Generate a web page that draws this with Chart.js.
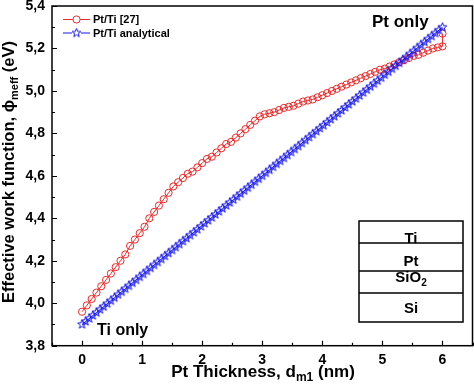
<!DOCTYPE html>
<html>
<head>
<meta charset="utf-8">
<script src="https://cdn.jsdelivr.net/npm/chart.js@4.4.1/dist/chart.umd.min.js"></script>
<style>
  html, body { margin: 0; padding: 0; background: #fff; }
  canvas { display: block; }
</style>
</head>
<body>
<canvas id="chart" width="474" height="391"></canvas>
<script>
// Pt/Ti [27] (red circles)
const redThickness = [
  0.00, 0.08, 0.16, 0.24, 0.32, 0.40, 0.48, 0.56, 0.64, 0.72,
  0.80, 0.88, 0.96, 1.04, 1.12, 1.20, 1.28, 1.36, 1.44, 1.52,
  1.60, 1.68, 1.76, 1.84, 1.92, 2.00, 2.08, 2.16, 2.24, 2.32,
  2.40, 2.48, 2.56, 2.64, 2.72, 2.80, 2.88, 2.96, 3.04, 3.12,
  3.20, 3.28, 3.36, 3.44, 3.52, 3.60, 3.68, 3.76, 3.84, 3.92,
  4.00, 4.08, 4.16, 4.24, 4.32, 4.40, 4.48, 4.56, 4.64, 4.72,
  4.80, 4.88, 4.96, 5.04, 5.12, 5.20, 5.28, 5.36, 5.44, 5.52,
  5.60, 5.68, 5.76, 5.84, 5.92, 6.00, 6.00
];
const redPhi = [
  3.96, 3.99, 4.02, 4.05, 4.08, 4.11, 4.14, 4.17, 4.20, 4.23,
  4.27, 4.30, 4.33, 4.36, 4.40, 4.43, 4.46, 4.49, 4.52, 4.55,
  4.57, 4.59, 4.61, 4.62, 4.64, 4.66, 4.68, 4.69, 4.71, 4.73,
  4.75, 4.76, 4.78, 4.80, 4.82, 4.84, 4.86, 4.88, 4.89, 4.895,
  4.90, 4.91, 4.92, 4.925, 4.93, 4.94, 4.95, 4.955, 4.96, 4.97,
  4.98, 4.99, 5.00, 5.01, 5.02, 5.03, 5.04, 5.05, 5.06, 5.07,
  5.08, 5.09, 5.10, 5.105, 5.115, 5.125, 5.135, 5.145, 5.155, 5.165,
  5.17, 5.18, 5.19, 5.20, 5.205, 5.21, 5.27
];

// Pt/Ti analytical (blue stars)
const blueThickness = [
  0.00, 0.06, 0.12, 0.18, 0.24, 0.30, 0.36, 0.42, 0.48, 0.54,
  0.60, 0.66, 0.72, 0.78, 0.84, 0.90, 0.96, 1.02, 1.08, 1.14,
  1.20, 1.26, 1.32, 1.38, 1.44, 1.50, 1.56, 1.62, 1.68, 1.74,
  1.80, 1.86, 1.92, 1.98, 2.04, 2.10, 2.16, 2.22, 2.28, 2.34,
  2.40, 2.46, 2.52, 2.58, 2.64, 2.70, 2.76, 2.82, 2.88, 2.94,
  3.00, 3.06, 3.12, 3.18, 3.24, 3.30, 3.36, 3.42, 3.48, 3.54,
  3.60, 3.66, 3.72, 3.78, 3.84, 3.90, 3.96, 4.02, 4.08, 4.14,
  4.20, 4.26, 4.32, 4.38, 4.44, 4.50, 4.56, 4.62, 4.68, 4.74,
  4.80, 4.86, 4.92, 4.98, 5.04, 5.10, 5.16, 5.22, 5.28, 5.34,
  5.40, 5.46, 5.52, 5.58, 5.64, 5.70, 5.76, 5.82, 5.88, 5.94,
  6.00
];
const bluePhi = [
  3.900, 3.914, 3.928, 3.942, 3.956, 3.970, 3.984, 3.998, 4.012, 4.026,
  4.040, 4.054, 4.068, 4.082, 4.096, 4.110, 4.124, 4.138, 4.152, 4.166,
  4.180, 4.194, 4.208, 4.222, 4.236, 4.250, 4.264, 4.278, 4.292, 4.306,
  4.320, 4.334, 4.348, 4.362, 4.376, 4.390, 4.404, 4.418, 4.432, 4.446,
  4.460, 4.474, 4.488, 4.502, 4.516, 4.530, 4.544, 4.558, 4.572, 4.586,
  4.600, 4.614, 4.628, 4.642, 4.656, 4.670, 4.684, 4.698, 4.712, 4.726,
  4.740, 4.754, 4.768, 4.782, 4.796, 4.810, 4.824, 4.838, 4.852, 4.866,
  4.880, 4.894, 4.908, 4.922, 4.936, 4.950, 4.964, 4.978, 4.992, 5.006,
  5.020, 5.034, 5.048, 5.062, 5.076, 5.090, 5.104, 5.118, 5.132, 5.146,
  5.160, 5.174, 5.188, 5.202, 5.216, 5.230, 5.244, 5.258, 5.272, 5.286,
  5.300
];

const xTicks = [0, 1, 2, 3, 4, 5, 6];
const yTicks = [3.8, 4.0, 4.2, 4.4, 4.6, 4.8, 5.0, 5.2, 5.4];
const legendLabels = ['Pt/Ti [27]', 'Pt/Ti analytical'];
const layers = ['Ti', 'Pt', 'SiO', 'Si'];

const RED = '#f02828';
const BLUE = '#1414f0';
const FONT = "'Liberation Sans', Arial, sans-serif";

const toPoints = (xs, ys) => xs.map((x, i) => ({ x: x, y: ys[i] }));

// 5-point open star marker
const makeStar = (r, color) => {
    const c = document.createElement('canvas');
    const s = Math.ceil(r * 2 + 3);
    c.width = s; c.height = s;
    const g = c.getContext('2d');
    g.strokeStyle = color;
    g.lineWidth = 1;
    g.beginPath();
    for (let k = 0; k < 10; k++) {
        const rad = k % 2 === 0 ? r : r * 0.42;
        const a = -Math.PI / 2 + k * Math.PI / 5;
        const px = s / 2 + rad * Math.cos(a);
        const py = s / 2 + rad * Math.sin(a);
        k === 0 ? g.moveTo(px, py) : g.lineTo(px, py);
    }
    g.closePath();
    g.stroke();
    return c;
};
const starImg = makeStar(4.6, BLUE);

// draw a run of text pieces (for subscripts)
const drawParts = (ctx, parts, x, y, align) => {
    let total = 0;
    parts.forEach(p => { ctx.font = p.font; total += ctx.measureText(p.t).width; });
    let cx = align === 'center' ? x - total / 2 : x;
    ctx.textAlign = 'left';
    ctx.textBaseline = 'alphabetic';
    parts.forEach(p => {
        ctx.font = p.font;
        ctx.fillText(p.t, cx, y + (p.dy || 0));
        cx += ctx.measureText(p.t).width;
    });
};

const decorations = {
    id: 'decorations',
    afterDraw(chart) {
        const ctx = chart.ctx;
        const a = chart.chartArea;
        const xs = chart.scales.x, ys = chart.scales.y;
        ctx.save();
        ctx.fillStyle = '#000';
        ctx.strokeStyle = '#000';

        // frame
        ctx.lineWidth = 1.5;
        ctx.strokeRect(a.left, a.top, a.right - a.left, a.bottom - a.top);

        // inward ticks
        ctx.lineWidth = 1.2;
        ctx.beginPath();
        for (let v = -0.5; v <= 6.5; v += 0.5) {
            const px = Math.round(xs.getPixelForValue(v)) + 0.5;
            const len = Number.isInteger(v) ? 5 : 3;
            ctx.moveTo(px, a.bottom); ctx.lineTo(px, a.bottom - len);
        }
        for (let i = 0; i <= 16; i++) {
            const v = 3.8 + i * 0.1;
            const py = Math.round(ys.getPixelForValue(v)) + 0.5;
            const len = i % 2 === 0 ? 5 : 3;
            ctx.moveTo(a.left, py); ctx.lineTo(a.left + len, py);
        }
        ctx.stroke();

        // x title
        drawParts(ctx, [
            { t: 'Pt Thickness, d', font: `bold 17px ${FONT}` },
            { t: 'm1', font: `bold 12px ${FONT}`, dy: 4 },
            { t: ' (nm)', font: `bold 17px ${FONT}` }
        ], 263, 377, 'center');

        // y title
        ctx.save();
        ctx.translate(14, 172);
        ctx.rotate(-Math.PI / 2);
        drawParts(ctx, [
            { t: 'Effective work function, \u03d5', font: `bold 16.5px ${FONT}` },
            { t: 'meff', font: `bold 11px ${FONT}`, dy: 4 },
            { t: ' (eV)', font: `bold 16.5px ${FONT}` }
        ], 0, 0, 'center');
        ctx.restore();

        // legend
        const legend = [
            { label: legendLabels[0], color: RED, y: 19.5, marker: 'circle' },
            { label: legendLabels[1], color: BLUE, y: 33, marker: 'star' }
        ];
        legend.forEach(l => {
            ctx.strokeStyle = l.color;
            ctx.lineWidth = 1;
            ctx.beginPath();
            ctx.moveTo(63, l.y); ctx.lineTo(90, l.y);
            ctx.stroke();
            if (l.marker === 'circle') {
                ctx.fillStyle = '#fff';
                ctx.beginPath();
                ctx.arc(76.5, l.y, 3.6, 0, Math.PI * 2);
                ctx.fill(); ctx.stroke();
            } else {
                ctx.fillStyle = '#fff';
                ctx.fillRect(72, l.y - 4, 9, 8);
                ctx.drawImage(starImg, 76.5 - starImg.width / 2, l.y - starImg.height / 2);
            }
            ctx.fillStyle = '#000';
            ctx.font = `bold 11px ${FONT}`;
            ctx.textAlign = 'left';
            ctx.textBaseline = 'middle';
            ctx.fillText(l.label, 93, l.y + 0.5);
        });

        // annotations
        ctx.fillStyle = '#000';
        ctx.textAlign = 'left';
        ctx.textBaseline = 'alphabetic';
        ctx.font = `bold 17px ${FONT}`;
        ctx.fillText('Pt only', 372, 27);
        ctx.font = `bold 16px ${FONT}`;
        ctx.fillText('Ti only', 97, 335);

        // layer stack inset
        ctx.strokeStyle = '#000';
        ctx.lineWidth = 1.5;
        ctx.fillStyle = '#fff';
        ctx.fillRect(359, 221, 104, 101);
        ctx.strokeRect(359, 221, 104, 101);
        ctx.beginPath();
        [243, 271, 293].forEach(yy => { ctx.moveTo(359, yy); ctx.lineTo(463, yy); });
        ctx.stroke();
        ctx.fillStyle = '#000';
        const cx = 411;
        ctx.font = `bold 15px ${FONT}`;
        ctx.textAlign = 'center';
        ctx.fillText(layers[0], cx, 243);
        ctx.fillText(layers[1], cx, 266);
        drawParts(ctx, [
            { t: layers[2], font: `bold 15px ${FONT}` },
            { t: '2', font: `bold 10px ${FONT}`, dy: 4 }
        ], cx, 282, 'center');
        ctx.font = `bold 15px ${FONT}`;
        ctx.textAlign = 'center';
        ctx.fillText(layers[3], cx, 313);

        ctx.restore();
    }
};

new Chart(document.getElementById('chart'), {
    type: 'scatter',
    data: {
        datasets: [
            {
                label: legendLabels[1],
                data: toPoints(blueThickness, bluePhi),
                showLine: true,
                borderColor: BLUE,
                borderWidth: 1,
                pointStyle: starImg,
                pointRadius: 4.6,
                order: 0
            },
            {
                label: legendLabels[0],
                data: toPoints(redThickness, redPhi),
                showLine: true,
                borderColor: RED,
                borderWidth: 1,
                pointStyle: 'circle',
                pointRadius: 3.6,
                pointBorderColor: RED,
                pointBorderWidth: 1,
                pointBackgroundColor: 'rgba(0,0,0,0)',
                order: 1
            }
        ]
    },
    options: {
        responsive: false,
        animation: false,
        events: [],
        layout: { autoPadding: false, padding: { top: 6, right: 1.5, left: 0, bottom: 0 } },
        plugins: { legend: { display: false }, tooltip: { enabled: false } },
        scales: {
            x: {
                type: 'linear',
                min: -0.5,
                max: 6.5,
                afterBuildTicks: s => { s.ticks = xTicks.map(v => ({ value: v })); },
                afterFit: s => { s.height = 45.3; s.paddingLeft = 0; s.paddingRight = 0; },
                grid: { display: false, drawTicks: false },
                border: { display: false },
                ticks: {
                    color: '#000',
                    padding: 6,
                    font: { family: FONT, size: 14, weight: 'bold' },
                    callback: v => String(v)
                }
            },
            y: {
                type: 'linear',
                min: 3.8,
                max: 5.4,
                afterBuildTicks: s => { s.ticks = yTicks.map(v => ({ value: v })); },
                afterFit: s => { s.width = 52; s.paddingTop = 0; s.paddingBottom = 0; },
                grid: { display: false, drawTicks: false },
                border: { display: false },
                ticks: {
                    color: '#000',
                    padding: 7,
                    font: { family: FONT, size: 14, weight: 'bold' },
                    callback: v => v.toFixed(1).replace('.', ',')
                }
            }
        }
    },
    plugins: [decorations]
});
</script>
</body>
</html>
